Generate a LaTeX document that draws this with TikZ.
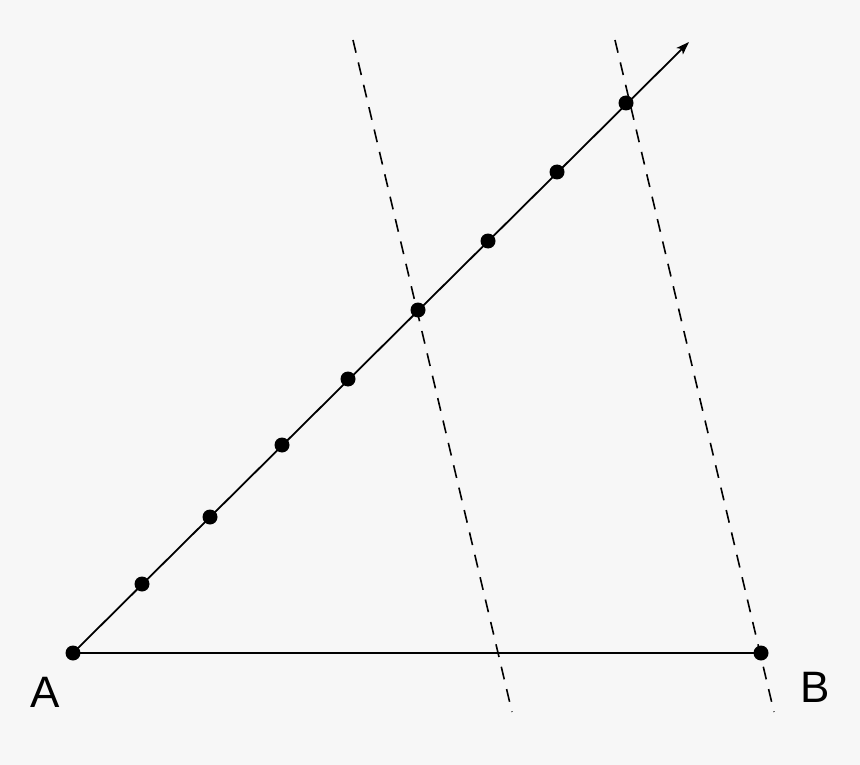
\documentclass[tikz,border=0pt]{standalone}
\usepackage{fontspec}
\setmainfont{Liberation Sans}
\usetikzlibrary{arrows.meta}
\begin{document}
\begin{tikzpicture}[x=1pt,y=-1pt,
  dot/.style={circle,fill=black,inner sep=0pt,minimum size=15pt},
  ln/.style={line width=1.8pt,black},
  dsh/.style={line width=1.6pt,dash pattern=on 13pt off 10pt},
  lab/.style={font=\fontsize{44}{44}\selectfont,inner sep=0pt}]
\fill[fill={rgb,255:red,247;green,247;blue,247}] (0,0) rectangle (860,765);
\useasboundingbox (0,0) rectangle (860,765);
\node[dot] (A) at (73,653) {};
\node[dot] (B) at (761,653) {};
\node[dot] (p1) at (142,584) {};
\node[dot] (p2) at (210,517) {};
\node[dot] (p3) at (282,445) {};
\node[dot] (p4) at (348,379) {};
\node[dot] (p5) at (418,310) {};
\node[dot] (p6) at (488,241) {};
\node[dot] (p7) at (557,172) {};
\node[dot] (p8) at (626,103) {};
\coordinate (tip) at (689,42);
\coordinate (d1s) at (353,40);
\coordinate (d1e) at (512,712);
\coordinate (d2s) at (615,40);
\coordinate (d2e) at (774,712);
\draw[ln,-{Stealth[length=13pt,width=9pt,inset=3pt]}] (A.center) -- (tip);
\draw[ln] (A.center) -- (B.center);
\draw[dsh] (d1s) -- (d1e);
\draw[dsh] (d2s) -- (d2e);
\node[lab] (la) at (45,692) {A};
\node[lab] (lb) at (815,687) {B};
\end{tikzpicture}
\end{document}
